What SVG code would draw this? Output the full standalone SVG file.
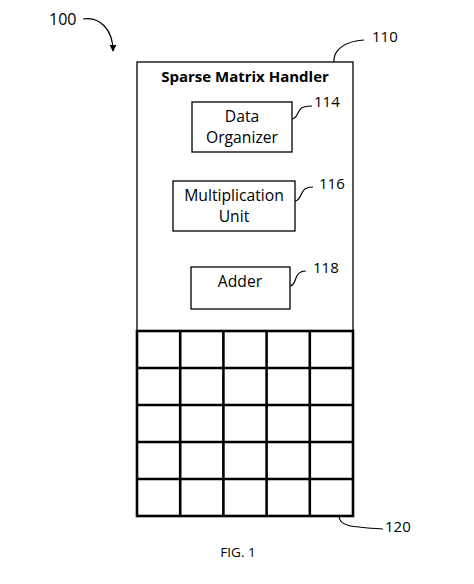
<svg xmlns="http://www.w3.org/2000/svg" width="474" height="584" viewBox="0 0 474 584">
<defs>
<style>
text{font-family:"Open Sans","Liberation Sans",sans-serif;font-size:15px;fill:#000}
.t{font-size:15.7px}
.c{text-anchor:middle}
.b{font-weight:bold}
.box{fill:#fff;stroke:#000;stroke-width:1.3}
.grid{fill:none;stroke:#000;stroke-width:2.6}
.lead{fill:none;stroke:#000;stroke-width:1.2}
</style>
<marker id="ah" viewBox="0 0 10 10" refX="9" refY="5" markerWidth="7" markerHeight="7" orient="auto" markerUnits="userSpaceOnUse">
<path d="M0,0 L10,5 L0,10 z" fill="#000"/>
</marker>
</defs>
<rect width="474" height="584" fill="#fff"/>
<g id="handler">
<rect class="box" x="137" y="62" width="216" height="269"/>
<text class="c b" x="245" y="82">Sparse Matrix Handler</text>
</g>
<g id="data-organizer">
<rect class="box" x="192" y="102" width="100" height="50"/>
<text class="c t" x="242" y="122">Data</text>
<text class="c t" x="242" y="143">Organizer</text>
</g>
<g id="multiplication-unit">
<rect class="box" x="173" y="181" width="122" height="50"/>
<text class="c t" x="234" y="201">Multiplication</text>
<text class="c t" x="234" y="222">Unit</text>
</g>
<g id="adder">
<rect class="box" x="191" y="267" width="99" height="42"/>
<text class="c t" x="240" y="287">Adder</text>
</g>
<g id="matrix">
<rect class="grid" x="137" y="331" width="216" height="185" fill="#fff"/>
<path class="grid" d="M180.2,331V516M223.4,331V516M266.6,331V516M309.8,331V516M137,368H353M137,405H353M137,442H353M137,479H353"/>
</g>
<g id="connectors">
<path class="lead" d="M83,19 C100,16 113,30 113,51" marker-end="url(#ah)"/>
<path class="lead" d="M334,62 C333,50 345,41 364,40"/>
<path class="lead" d="M292,119 C299,118 297,108 304,107 C307,106 310,106 312,106"/>
<path class="lead" d="M295,201 C302,200 300,190 307,188 C309,187 311,187 313,187"/>
<path class="lead" d="M290,286 C297,285 294,274 301,272 C302,271 304,271 306,271"/>
<path class="lead" d="M339,516 C339,526 350,527 383,529"/>
</g>
<g id="labels">
<text x="49" y="25" style="font-size:16px">100</text>
<text x="372" y="42">110</text>
<text x="314" y="107">114</text>
<text x="319" y="189">116</text>
<text x="313" y="273">118</text>
<text x="385" y="532">120</text>
<text class="c" x="238" y="557" style="font-size:13.5px">FIG. 1</text>
</g>
</svg>
